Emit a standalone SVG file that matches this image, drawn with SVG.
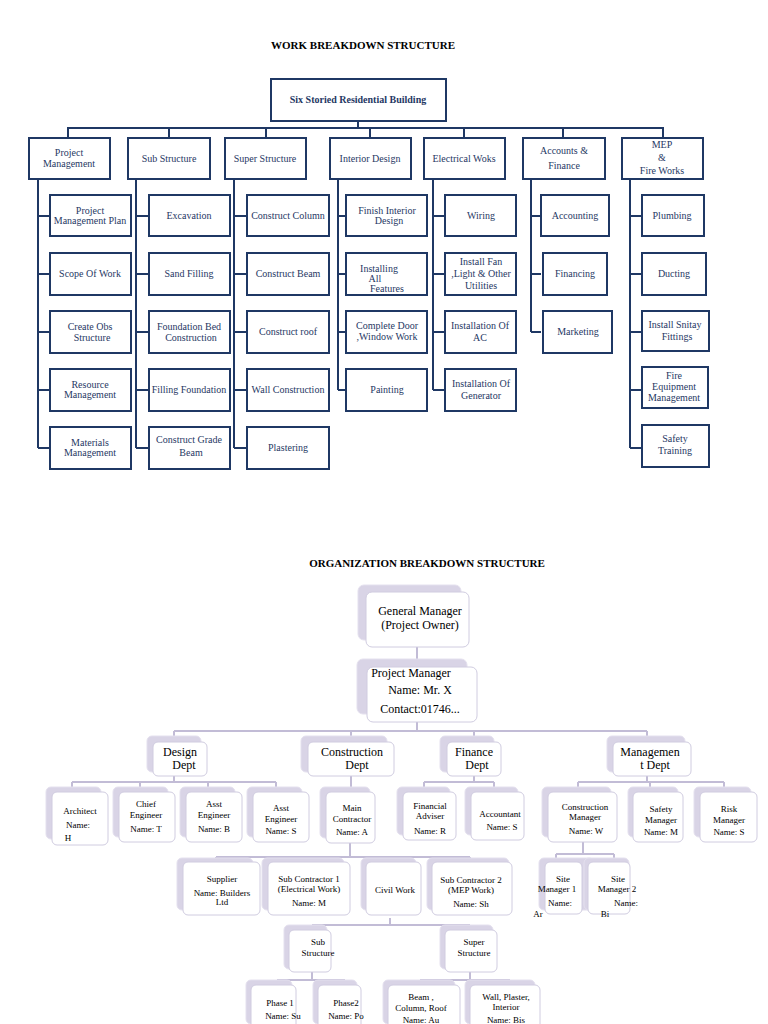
<svg xmlns="http://www.w3.org/2000/svg" width="768" height="1024" viewBox="0 0 768 1024">
<style>
.w{fill:#fff;stroke:#1f3864;stroke-width:2}
.wt{font-family:"Liberation Serif",serif;font-size:10px;fill:#1f3864;text-anchor:middle}
.wl{stroke:#1f3864;stroke-width:2;fill:none}
.h{font-family:"Liberation Serif",serif;font-size:11px;font-weight:bold;fill:#000;text-anchor:middle}
.bk{fill:#d9d4e6;stroke:#e4e0ee;stroke-width:1}
.fr{fill:#fff;stroke:#d0cce0;stroke-width:1}
.ot{font-family:"Liberation Serif",serif;font-size:9px;fill:#000;text-anchor:middle}
.ob{font-family:"Liberation Serif",serif;font-size:12px;fill:#000;text-anchor:middle}
.ol{stroke:#c2bcd6;stroke-width:2;fill:none}
</style>
<rect width="768" height="1024" fill="#fff"/>
<text class="h" x="363" y="49">WORK BREAKDOWN STRUCTURE</text>
<text class="h" x="427" y="567">ORGANIZATION BREAKDOWN STRUCTURE</text>

<g id="wbs-connectors" class="wl">
<path d="M358 121V128M68 138V128H663V138M169 128V138M266 128V138M370 128V138M464 128V138M563 128V138"/>
<path d="M38 179V448M38 216H50M38 274H50M38 332H50M38 390H50M38 448H50"/>
<path d="M136 179V448M136 216H149M136 274H149M136 332H149M136 390H149M136 448H149"/>
<path d="M234 179V448M234 216H247M234 274H247M234 332H247M234 390H247M234 448H247"/>
<path d="M338 179V390M338 216H346M338 274H346M338 332H346M338 390H346"/>
<path d="M433 179V390M433 216H445M433 274H445M433 332H445M433 390H445"/>
<path d="M531 179V332M531 216H541M531 274H541M531 332H541"/>
<path d="M630 179V448M630 216H642M630 274H642M630 332H642M630 390H642M630 448H642"/>
</g>

<g id="w-root"><rect class="w" x="271" y="79" width="175" height="42"/><text class="wt" x="358" y="103" font-weight="bold">Six Storied Residential Building</text></g>
<g id="w-pm"><rect class="w" x="29" y="138" width="81" height="41"/><text class="wt" x="69" y="156">Project</text><text class="wt" x="69" y="167">Management</text></g>
<g id="w-sub"><rect class="w" x="128" y="138" width="82" height="41"/><text class="wt" x="169" y="162">Sub Structure</text></g>
<g id="w-super"><rect class="w" x="225" y="138" width="81" height="41"/><text class="wt" x="265" y="162">Super Structure</text></g>
<g id="w-int"><rect class="w" x="330" y="138" width="81" height="41"/><text class="wt" x="370" y="162">Interior Design</text></g>
<g id="w-ele"><rect class="w" x="424" y="138" width="81" height="41"/><text class="wt" x="464" y="162">Electrical Woks</text></g>
<g id="w-acc"><rect class="w" x="523" y="138" width="82" height="41"/><text class="wt" x="564" y="154">Accounts &amp;</text><text class="wt" x="564" y="169">Finance</text></g>
<g id="w-mep"><rect class="w" x="622" y="138" width="81" height="41"/><text class="wt" x="662" y="148">MEP</text><text class="wt" x="662" y="161">&amp;</text><text class="wt" x="662" y="174">Fire Works</text></g>

<g id="w-pm1"><rect class="w" x="50" y="195" width="81" height="41"/><text class="wt" x="90" y="214">Project</text><text class="wt" x="90" y="224">Management Plan</text></g>
<g id="w-pm2"><rect class="w" x="50" y="253" width="81" height="42"/><text class="wt" x="90" y="277">Scope Of Work</text></g>
<g id="w-pm3"><rect class="w" x="50" y="311" width="81" height="42"/><text class="wt" x="90" y="330">Create Obs</text><text class="wt" x="92" y="341">Structure</text></g>
<g id="w-pm4"><rect class="w" x="50" y="369" width="81" height="42"/><text class="wt" x="90" y="388">Resource</text><text class="wt" x="90" y="398">Management</text></g>
<g id="w-pm5"><rect class="w" x="50" y="427" width="81" height="42"/><text class="wt" x="90" y="446">Materials</text><text class="wt" x="90" y="456">Management</text></g>

<g id="w-sub1"><rect class="w" x="149" y="195" width="81" height="41"/><text class="wt" x="189" y="219">Excavation</text></g>
<g id="w-sub2"><rect class="w" x="149" y="253" width="81" height="42"/><text class="wt" x="189" y="277">Sand Filling</text></g>
<g id="w-sub3"><rect class="w" x="149" y="311" width="81" height="42"/><text class="wt" x="189" y="330">Foundation Bed</text><text class="wt" x="191" y="341">Construction</text></g>
<g id="w-sub4"><rect class="w" x="149" y="369" width="81" height="42"/><text class="wt" x="189" y="393">Filling Foundation</text></g>
<g id="w-sub5"><rect class="w" x="149" y="427" width="81" height="42"/><text class="wt" x="189" y="443">Construct Grade</text><text class="wt" x="191" y="456">Beam</text></g>

<g id="w-sup1"><rect class="w" x="247" y="195" width="82" height="41"/><text class="wt" x="288" y="219">Construct Column</text></g>
<g id="w-sup2"><rect class="w" x="247" y="253" width="82" height="42"/><text class="wt" x="288" y="277">Construct Beam</text></g>
<g id="w-sup3"><rect class="w" x="247" y="311" width="82" height="42"/><text class="wt" x="288" y="335">Construct roof</text></g>
<g id="w-sup4"><rect class="w" x="247" y="369" width="82" height="42"/><text class="wt" x="288" y="393">Wall Construction</text></g>
<g id="w-sup5"><rect class="w" x="247" y="427" width="82" height="42"/><text class="wt" x="288" y="451">Plastering</text></g>

<g id="w-int1"><rect class="w" x="346" y="195" width="81" height="41"/><text class="wt" x="387" y="214">Finish Interior</text><text class="wt" x="389" y="224">Design</text></g>
<g id="w-int2"><rect class="w" x="346" y="253" width="81" height="42"/><text class="wt" x="379" y="272">Installing</text><text class="wt" x="375" y="282">All</text><text class="wt" x="387" y="292">Features</text></g>
<g id="w-int3"><rect class="w" x="346" y="311" width="81" height="42"/><text class="wt" x="387" y="329">Complete Door</text><text class="wt" x="387" y="340">,Window Work</text></g>
<g id="w-int4"><rect class="w" x="346" y="369" width="81" height="42"/><text class="wt" x="387" y="393">Painting</text></g>

<g id="w-ele1"><rect class="w" x="445" y="195" width="71" height="41"/><text class="wt" x="481" y="219">Wiring</text></g>
<g id="w-ele2"><rect class="w" x="445" y="253" width="71" height="42"/><text class="wt" x="481" y="265">Install Fan</text><text class="wt" x="481" y="277">,Light &amp; Other</text><text class="wt" x="481" y="289">Utilities</text></g>
<g id="w-ele3"><rect class="w" x="445" y="311" width="71" height="42"/><text class="wt" x="480" y="329">Installation Of</text><text class="wt" x="480" y="341">AC</text></g>
<g id="w-ele4"><rect class="w" x="445" y="369" width="71" height="42"/><text class="wt" x="481" y="387">Installation Of</text><text class="wt" x="481" y="399">Generator</text></g>

<g id="w-acc1"><rect class="w" x="541" y="195" width="68" height="41"/><text class="wt" x="575" y="219">Accounting</text></g>
<g id="w-acc2"><rect class="w" x="543" y="253" width="64" height="42"/><text class="wt" x="575" y="277">Financing</text></g>
<g id="w-acc3"><rect class="w" x="543" y="311" width="69" height="42"/><text class="wt" x="578" y="335">Marketing</text></g>

<g id="w-mep1"><rect class="w" x="642" y="195" width="62" height="41"/><text class="wt" x="672" y="219">Plumbing</text></g>
<g id="w-mep2"><rect class="w" x="642" y="253" width="64" height="42"/><text class="wt" x="674" y="277">Ducting</text></g>
<g id="w-mep3"><rect class="w" x="642" y="311" width="67" height="40"/><text class="wt" x="675" y="328">Install Snitay</text><text class="wt" x="677" y="340">Fittings</text></g>
<g id="w-mep4"><rect class="w" x="642" y="367" width="66" height="41"/><text class="wt" x="674" y="379">Fire</text><text class="wt" x="674" y="390">Equipment</text><text class="wt" x="674" y="401">Management</text></g>
<g id="w-mep5"><rect class="w" x="642" y="425" width="67" height="42"/><text class="wt" x="675" y="442">Safety</text><text class="wt" x="675" y="454">Training</text></g>

<g id="obs-connectors" class="ol">
<path d="M417 647V659M417 722V731M174 731H647M174 731V742M351 731V742M474 731V742M647 731V742"/>
<path d="M174 776V782M72 782H276M72 782V792M140 782V792M208 782V792M276 782V792"/>
<path d="M351 776V792"/>
<path d="M474 776V782M424 782H494M424 782V792M494 782V792"/>
<path d="M647 776V782M578 782H724M578 782V792M650 782V792M724 782V792"/>
<path d="M350 843V857M216 857H470M216 857V862M307 857V862M390 857V862M470 857V862"/>
<path d="M583 842V854M556 854H614M556 854V862M614 854V862"/>
<path d="M390 918V925M312 925H470M312 925V930M470 925V930"/>
<path d="M312 972V980M277 980H345M277 980V985M345 980V985"/>
<path d="M470 972V980M420 980H510M420 980V985M510 980V985"/>
</g>

<g id="o-gm"><rect class="bk" x="358" y="585" width="103" height="55" rx="6"/><rect class="fr" x="366" y="592" width="103" height="55" rx="6"/><text class="ob" x="420" y="615">General  Manager</text><text class="ob" x="420" y="629">(Project Owner)</text></g>
<g id="o-pm"><rect class="bk" x="357" y="659" width="110" height="55" rx="6"/><rect class="fr" x="367" y="667" width="110" height="55" rx="6"/><text class="ob" x="411" y="677">Project Manager</text><text class="ob" x="420" y="694">Name: Mr. X</text><text class="ob" x="420" y="713">Contact:01746...</text></g>
<g id="o-design"><rect class="bk" x="147" y="736" width="54" height="36" rx="5"/><rect class="fr" x="153" y="742" width="54" height="34" rx="5"/><text class="ob" x="180" y="756">Design</text><text class="ob" x="184" y="769">Dept</text></g>
<g id="o-cons"><rect class="bk" x="301" y="736" width="86" height="36" rx="5"/><rect class="fr" x="308" y="742" width="86" height="34" rx="5"/><text class="ob" x="352" y="756">Construction</text><text class="ob" x="357" y="769">Dept</text></g>
<g id="o-fin"><rect class="bk" x="440" y="736" width="54" height="36" rx="5"/><rect class="fr" x="447" y="742" width="54" height="34" rx="5"/><text class="ob" x="474" y="756">Finance</text><text class="ob" x="477" y="769">Dept</text></g>
<g id="o-mgmt"><rect class="bk" x="607" y="736" width="78" height="36" rx="5"/><rect class="fr" x="613" y="742" width="78" height="34" rx="5"/><text class="ob" x="650" y="756">Managemen</text><text class="ob" x="655" y="769">t Dept</text></g>

<g id="o-arch"><rect class="bk" x="46" y="787" width="55" height="52" rx="5"/><rect class="fr" x="52" y="792" width="56" height="53" rx="5"/><text class="ot" x="80" y="814">Architect</text><text class="ot" x="78" y="828">Name:</text><text class="ot" x="68" y="841">H</text></g>
<g id="o-chief"><rect class="bk" x="113" y="787" width="55" height="50" rx="5"/><rect class="fr" x="119" y="792" width="56" height="50" rx="5"/><text class="ot" x="146" y="807">Chief</text><text class="ot" x="146" y="818">Engineer</text><text class="ot" x="146" y="832">Name: T</text></g>
<g id="o-asstb"><rect class="bk" x="180" y="787" width="55" height="50" rx="5"/><rect class="fr" x="186" y="792" width="56" height="50" rx="5"/><text class="ot" x="214" y="807">Asst</text><text class="ot" x="214" y="818">Engineer</text><text class="ot" x="214" y="832">Name: B</text></g>
<g id="o-assts"><rect class="bk" x="247" y="787" width="55" height="50" rx="5"/><rect class="fr" x="253" y="792" width="56" height="50" rx="5"/><text class="ot" x="281" y="811">Asst</text><text class="ot" x="281" y="822">Engineer</text><text class="ot" x="281" y="834">Name: S</text></g>
<g id="o-main"><rect class="bk" x="320" y="787" width="50" height="51" rx="5"/><rect class="fr" x="326" y="792" width="49" height="51" rx="5"/><text class="ot" x="352" y="811">Main</text><text class="ot" x="352" y="822">Contractor</text><text class="ot" x="352" y="835">Name: A</text></g>
<g id="o-fa"><rect class="bk" x="397" y="787" width="53" height="48" rx="5"/><rect class="fr" x="403" y="792" width="53" height="48" rx="5"/><text class="ot" x="430" y="809">Financial</text><text class="ot" x="430" y="819">Adviser</text><text class="ot" x="430" y="834">Name: R</text></g>
<g id="o-acct"><rect class="bk" x="465" y="787" width="53" height="48" rx="5"/><rect class="fr" x="471" y="792" width="53" height="48" rx="5"/><text class="ot" x="500" y="817">Accountant</text><text class="ot" x="502" y="830">Name: S</text></g>
<g id="o-cm"><rect class="bk" x="542" y="787" width="69" height="50" rx="5"/><rect class="fr" x="548" y="792" width="69" height="50" rx="5"/><text class="ot" x="585" y="810">Construction</text><text class="ot" x="585" y="820">Manager</text><text class="ot" x="586" y="834">Name: W</text></g>
<g id="o-sm"><rect class="bk" x="628" y="787" width="50" height="50" rx="5"/><rect class="fr" x="633" y="792" width="50" height="50" rx="5"/><text class="ot" x="661" y="812">Safety</text><text class="ot" x="661" y="823">Manager</text><text class="ot" x="661" y="835">Name: M</text></g>
<g id="o-rm"><rect class="bk" x="694" y="787" width="57" height="50" rx="5"/><rect class="fr" x="700" y="792" width="57" height="50" rx="5"/><text class="ot" x="729" y="812">Risk</text><text class="ot" x="729" y="823">Manager</text><text class="ot" x="729" y="835">Name: S</text></g>

<g id="o-supp"><rect class="bk" x="177" y="858" width="76" height="52" rx="5"/><rect class="fr" x="183" y="862" width="77" height="53" rx="5"/><text class="ot" x="222" y="882">Supplier</text><text class="ot" x="222" y="896">Name: Builders</text><text class="ot" x="222" y="905">Ltd</text></g>
<g id="o-sc1"><rect class="bk" x="262" y="858" width="82" height="52" rx="5"/><rect class="fr" x="268" y="862" width="82" height="53" rx="5"/><text class="ot" x="309" y="882">Sub Contractor 1</text><text class="ot" x="309" y="892">(Electrical Work)</text><text class="ot" x="309" y="906">Name: M</text></g>
<g id="o-civil"><rect class="bk" x="361" y="858" width="55" height="52" rx="5"/><rect class="fr" x="366" y="862" width="55" height="53" rx="5"/><text class="ot" x="395" y="893">Civil Work</text></g>
<g id="o-sc2"><rect class="bk" x="427" y="858" width="82" height="52" rx="5"/><rect class="fr" x="432" y="862" width="80" height="53" rx="5"/><text class="ot" x="471" y="883">Sub Contractor 2</text><text class="ot" x="471" y="893">(MEP Work)</text><text class="ot" x="471" y="907">Name: Sh</text></g>
<g id="o-site1"><rect class="bk" x="539" y="858" width="55" height="52" rx="5"/><rect class="fr" x="545" y="862" width="37" height="52" rx="5"/><text class="ot" x="563" y="882">Site</text><text class="ot" x="557" y="892">Manager 1</text><text class="ot" x="560" y="906">Name:</text><text class="ot" x="538" y="917">Ar</text></g>
<g id="o-site2"><rect class="bk" x="584" y="858" width="45" height="52" rx="5"/><rect class="fr" x="588" y="862" width="42" height="52" rx="5"/><text class="ot" x="618" y="882">Site</text><text class="ot" x="617" y="892">Manager 2</text><text class="ot" x="626" y="906">Name:</text><text class="ot" x="605" y="917">Bi</text></g>

<g id="o-subst"><rect class="bk" x="284" y="925" width="43" height="44" rx="5"/><rect class="fr" x="289" y="930" width="42" height="42" rx="5"/><text class="ot" x="318" y="945">Sub</text><text class="ot" x="318" y="956">Structure</text></g>
<g id="o-superst"><rect class="bk" x="440" y="925" width="53" height="44" rx="5"/><rect class="fr" x="445" y="930" width="52" height="42" rx="5"/><text class="ot" x="474" y="945">Super</text><text class="ot" x="474" y="956">Structure</text></g>

<g id="o-ph1"><rect class="bk" x="246" y="980" width="46" height="44" rx="5"/><rect class="fr" x="251" y="985" width="45" height="45" rx="5"/><text class="ot" x="280" y="1006">Phase 1</text><text class="ot" x="283" y="1019">Name: Su</text></g>
<g id="o-ph2"><rect class="bk" x="313" y="980" width="44" height="44" rx="5"/><rect class="fr" x="318" y="985" width="43" height="45" rx="5"/><text class="ot" x="346" y="1006">Phase2</text><text class="ot" x="346" y="1019">Name: Po</text></g>
<g id="o-beam"><rect class="bk" x="383" y="980" width="72" height="44" rx="5"/><rect class="fr" x="388" y="985" width="72" height="45" rx="5"/><text class="ot" x="421" y="1000">Beam ,</text><text class="ot" x="421" y="1011">Column, Roof</text><text class="ot" x="421" y="1023">Name: Au</text></g>
<g id="o-wall"><rect class="bk" x="465" y="980" width="70" height="44" rx="5"/><rect class="fr" x="470" y="985" width="70" height="45" rx="5"/><text class="ot" x="506" y="1000">Wall, Plaster,</text><text class="ot" x="506" y="1010">Interior</text><text class="ot" x="506" y="1023">Name: Bis</text></g>
</svg>
